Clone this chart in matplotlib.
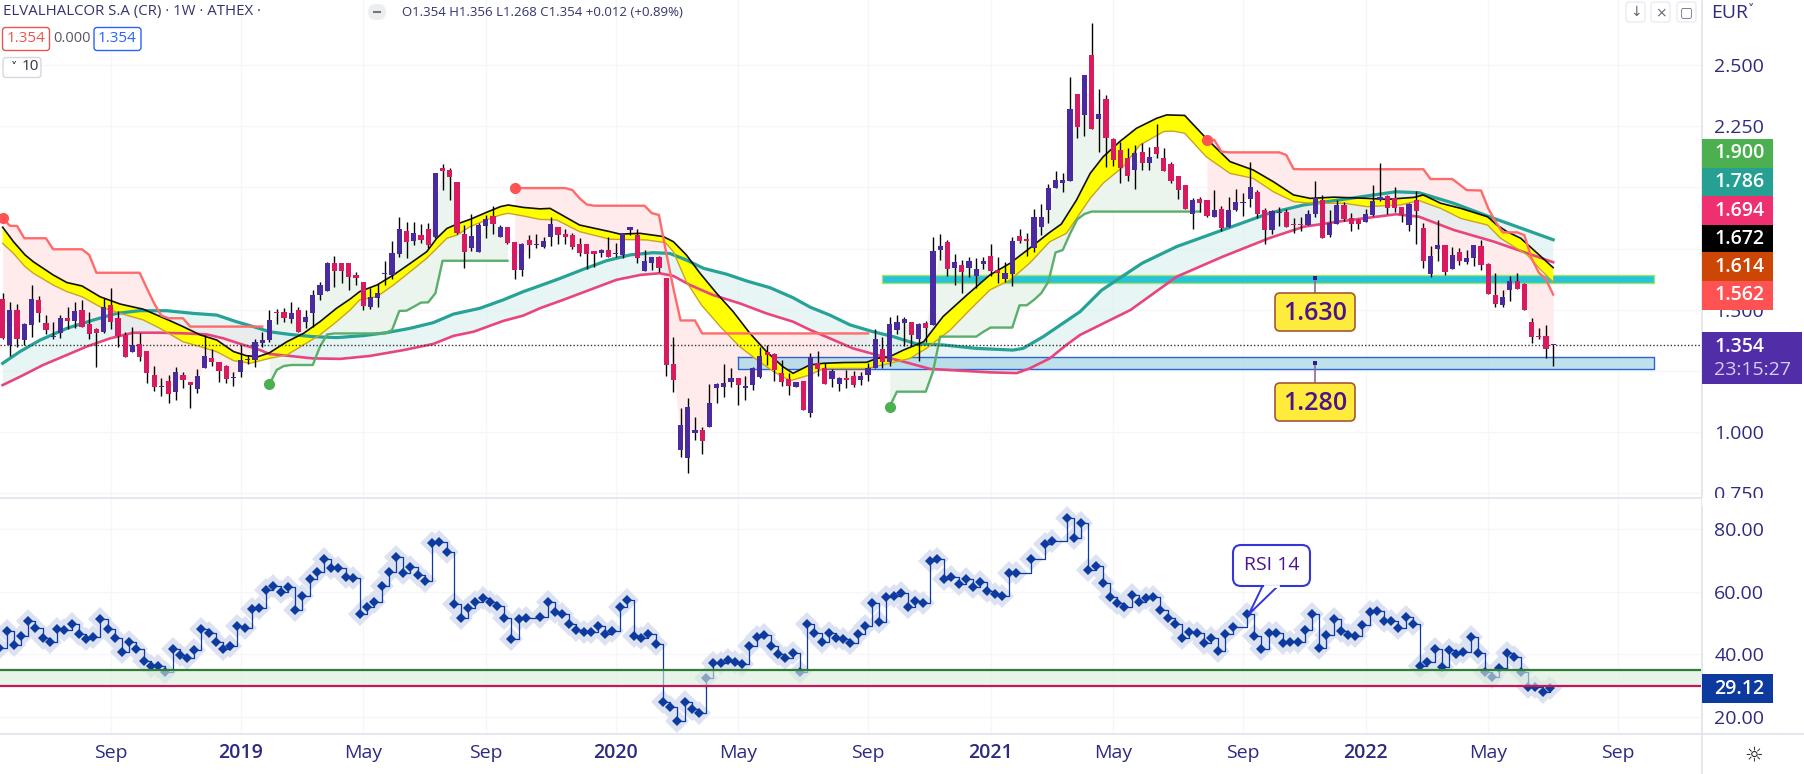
import numpy as np
import matplotlib
matplotlib.use('Agg')
import matplotlib.pyplot as plt
from matplotlib.patches import Rectangle, FancyBboxPatch, Polygon
from matplotlib.lines import Line2D
from matplotlib.transforms import IdentityTransform

plt.rcParams['font.family'] = ['Open Sans', 'DejaVu Sans']

W, H = 1804, 774

# Weekly candles
opens = [1.542,1.356,1.499,1.376,1.439,1.540,1.444,1.387,1.406,1.467,
         1.455,1.497,1.441,1.420,1.407,1.518,1.465,1.395,1.328,1.358,
         1.330,1.232,1.185,1.207,1.165,1.233,1.204,1.176,1.263,1.302,
         1.285,1.270,1.221,1.244,1.294,1.294,1.363,1.376,1.492,1.489,
         1.462,1.499,1.451,1.488,1.561,1.578,1.691,1.689,1.689,1.643,
         1.612,1.510,1.548,1.647,1.642,1.728,1.820,1.782,1.804,1.828,
         1.796,2.079,2.070,2.020,1.808,1.752,1.737,1.842,1.883,1.798,
         1.837,1.775,1.664,1.783,1.764,1.758,1.798,1.837,1.808,1.805,
         1.767,1.767,1.739,1.732,1.745,1.729,1.724,1.826,1.804,1.660,
         1.691,1.715,1.630,1.278,0.927,0.894,0.998,1.010,1.021,1.180,
         1.186,1.206,1.220,1.182,1.194,1.224,1.326,1.319,1.242,1.216,
         1.184,1.207,1.079,1.284,1.262,1.217,1.195,1.220,1.228,1.213,
         1.235,1.263,1.338,1.288,1.417,1.447,1.448,1.382,1.446,1.438,
         1.744,1.777,1.669,1.681,1.672,1.639,1.688,1.720,1.662,1.627,
         1.646,1.801,1.788,1.751,1.840,1.907,1.999,2.019,2.027,2.380,
         2.294,2.541,2.278,2.361,2.199,2.154,2.119,2.072,2.143,2.101,
         2.165,2.119,2.096,2.045,2.008,1.891,1.952,1.947,1.880,1.910,
         1.839,1.907,1.935,1.954,1.981,1.909,1.824,1.897,1.899,1.850,
         1.848,1.846,1.890,1.950,1.805,1.850,1.927,1.873,1.866,1.860,
         1.887,1.948,1.966,1.958,1.918,1.847,1.947,1.832,1.647,1.749,
         1.764,1.668,1.734,1.696,1.710,1.759,1.687,1.559,1.519,1.580,
         1.617,1.604,1.448,1.391,1.391,1.354]
closes = [1.383,1.499,1.379,1.441,1.544,1.488,1.417,1.390,1.466,1.455,
          1.493,1.431,1.399,1.406,1.510,1.448,1.393,1.308,1.354,1.308,
          1.240,1.185,1.188,1.157,1.244,1.211,1.192,1.228,1.311,1.286,
          1.251,1.218,1.224,1.296,1.297,1.366,1.375,1.458,1.485,1.465,
          1.485,1.410,1.470,1.560,1.601,1.692,1.659,1.659,1.635,1.629,
          1.516,1.550,1.567,1.650,1.732,1.830,1.778,1.812,1.785,1.766,
          2.059,2.067,2.041,1.812,1.734,1.800,1.845,1.869,1.849,1.837,
          1.771,1.664,1.768,1.764,1.767,1.779,1.850,1.807,1.797,1.758,
          1.732,1.729,1.729,1.745,1.717,1.732,1.812,1.837,1.710,1.698,
          1.714,1.672,1.276,1.213,1.029,1.103,1.009,0.965,1.118,1.197,
          1.199,1.220,1.194,1.188,1.262,1.310,1.316,1.254,1.206,1.187,
          1.203,1.092,1.308,1.256,1.198,1.248,1.221,1.214,1.194,1.229,
          1.263,1.382,1.288,1.442,1.450,1.463,1.398,1.442,1.427,1.741,
          1.762,1.666,1.694,1.655,1.698,1.665,1.699,1.658,1.649,1.649,
          1.779,1.782,1.782,1.877,1.878,1.996,2.029,2.029,2.319,2.248,
          2.458,2.240,2.300,2.200,2.113,2.078,2.048,2.139,2.101,2.124,
          2.138,2.068,2.027,1.991,1.913,1.948,1.937,1.882,1.906,1.833,
          1.907,1.940,1.940,2.002,1.893,1.824,1.903,1.901,1.839,1.846,
          1.845,1.891,1.955,1.794,1.853,1.928,1.872,1.850,1.849,1.891,
          1.946,1.959,1.917,1.917,1.886,1.931,1.905,1.698,1.718,1.763,
          1.655,1.722,1.699,1.710,1.763,1.683,1.564,1.523,1.552,1.617,
          1.586,1.499,1.390,1.387,1.341,1.354]
highs = [1.567,1.533,1.523,1.447,1.601,1.556,1.478,1.451,1.478,1.512,
         1.530,1.540,1.489,1.424,1.546,1.589,1.496,1.409,1.431,1.406,
         1.331,1.270,1.219,1.233,1.267,1.247,1.206,1.258,1.396,1.338,
         1.287,1.274,1.247,1.356,1.315,1.379,1.410,1.499,1.501,1.505,
         1.531,1.510,1.499,1.580,1.613,1.696,1.719,1.692,1.692,1.654,
         1.613,1.587,1.604,1.700,1.782,1.877,1.860,1.858,1.849,1.856,
         2.060,2.095,2.078,2.020,1.846,1.890,1.853,1.887,1.924,1.846,
         1.837,1.778,1.771,1.807,1.809,1.798,1.878,1.839,1.830,1.815,
         1.792,1.767,1.740,1.747,1.798,1.771,1.815,1.837,1.829,1.744,
         1.717,1.719,1.630,1.390,1.097,1.138,1.063,1.020,1.195,1.199,
         1.278,1.261,1.220,1.229,1.267,1.349,1.356,1.322,1.295,1.240,
         1.206,1.209,1.325,1.332,1.281,1.256,1.226,1.254,1.251,1.247,
         1.281,1.420,1.390,1.472,1.478,1.469,1.450,1.444,1.455,1.798,
         1.809,1.785,1.726,1.703,1.717,1.710,1.717,1.769,1.717,1.696,
         1.798,1.828,1.815,1.910,1.932,2.014,2.067,2.060,2.452,2.382,
         2.459,2.670,2.403,2.377,2.200,2.187,2.160,2.173,2.180,2.164,
         2.258,2.160,2.105,2.047,2.010,1.955,1.962,1.948,1.989,1.924,
         1.962,1.993,1.978,2.104,1.989,1.914,1.907,1.921,1.910,1.874,
         1.878,1.907,2.027,1.969,1.907,1.948,1.941,1.894,1.869,1.910,
         2.010,2.101,1.969,2.003,1.921,1.935,1.986,1.853,1.760,1.866,
         1.766,1.755,1.751,1.744,1.764,1.785,1.690,1.649,1.580,1.638,
         1.649,1.608,1.467,1.426,1.437,1.356]
lows = [1.380,1.311,1.349,1.356,1.390,1.451,1.400,1.382,1.383,1.421,
        1.424,1.429,1.382,1.267,1.406,1.422,1.349,1.306,1.326,1.292,
        1.199,1.169,1.149,1.120,1.131,1.178,1.100,1.161,1.262,1.270,
        1.206,1.199,1.188,1.226,1.278,1.267,1.349,1.369,1.441,1.451,
        1.447,1.409,1.424,1.431,1.540,1.576,1.591,1.608,1.580,1.601,
        1.499,1.503,1.512,1.601,1.624,1.717,1.713,1.764,1.771,1.751,
        1.792,1.989,1.948,1.811,1.672,1.740,1.736,1.794,1.809,1.796,
        1.770,1.624,1.638,1.713,1.751,1.751,1.762,1.767,1.769,1.747,
        1.721,1.665,1.673,1.717,1.715,1.717,1.710,1.805,1.692,1.658,
        1.662,1.656,1.229,1.165,0.899,0.832,0.968,0.911,1.020,1.118,
        1.145,1.183,1.111,1.131,1.172,1.221,1.274,1.209,1.190,1.152,
        1.183,1.090,1.060,1.229,1.197,1.186,1.169,1.179,1.183,1.191,
        1.209,1.260,1.260,1.271,1.401,1.353,1.353,1.289,1.369,1.436,
        1.703,1.638,1.601,1.570,1.632,1.587,1.666,1.638,1.608,1.615,
        1.597,1.771,1.719,1.734,1.805,1.853,1.997,1.982,2.026,2.203,
        2.211,2.239,2.146,2.082,2.087,2.017,2.026,1.993,2.071,2.071,
        2.121,2.067,2.017,1.951,1.912,1.830,1.901,1.880,1.879,1.823,
        1.838,1.905,1.884,1.921,1.874,1.767,1.809,1.842,1.838,1.815,
        1.823,1.845,1.880,1.793,1.798,1.849,1.864,1.823,1.830,1.858,
        1.884,1.946,1.891,1.901,1.860,1.822,1.768,1.670,1.634,1.700,
        1.642,1.665,1.683,1.687,1.678,1.662,1.563,1.512,1.510,1.537,
        1.584,1.497,1.362,1.380,1.304,1.268]

# Moving averages as (bar, price) readings
black_k = [0,1.5,3.1,4.25,7,8.9,11,13.5,16.3,19.5,23.2,25,27.4,29.7,32,33.8,35.4,37,39.4,41.7,44,46.3,48.2,49.5,
           51.9,54.2,56.5,58.8,60.2,61.6,63,64.8,67.1,69,70.1,72.2,74.5,75.9,77.3,80,84.2,85.6,88.4,91.6,93,94.8,
           96.7,99,101.3,103.6,105.9,108.2,109.6,111.9,113.8,116.6,119.8,121.2,123,124.9,127.7,130.4,133.7,136.9,
           139.7,142.4,145,146.8,148.9,150.8,152.6,154.9,157.2,160,161.4,163.9,166.9,170.2,173.4,176.2,179,181.3,
           184.6,189.2,192,195.7,197,199.4,202.2,205.9,207.2,208.6,210.5,212.3,215]
black_v = [1.837,1.778,1.724,1.696,1.642,1.611,1.597,1.553,1.523,1.502,1.455,1.431,1.397,1.376,1.329,1.312,1.308,1.324,
           1.369,1.403,1.451,1.506,1.544,1.574,1.601,1.642,1.689,1.737,1.792,1.832,1.850,1.869,1.898,1.921,1.928,1.918,
           1.912,1.914,1.891,1.846,1.819,1.809,1.812,1.799,1.778,1.724,1.649,1.567,1.492,1.404,1.329,1.267,1.240,1.274,
           1.281,1.284,1.285,1.301,1.308,1.335,1.369,1.472,1.560,1.642,1.690,1.751,1.812,1.850,1.948,2.057,2.125,2.187,
           2.241,2.282,2.296,2.294,2.200,2.105,2.071,2.023,1.969,1.955,1.960,1.955,1.951,1.959,1.969,1.935,1.914,1.880,
           1.846,1.819,1.792,1.744,1.672]
lower_k = [0,1.5,3.1,4.25,7,8.9,11,13.5,16.3,19.5,21.8,25,27.4,29.7,32,34.3,37,39.4,41.7,44,46.3,48.2,49.5,51.9,54.2,
           56.5,58.8,60.2,61.6,63,64.8,67.1,69,70.1,72.2,74.5,76.8,80,84.2,89.3,91.9,93,94.8,96.9,99.5,102.2,104.6,
           106.9,109.2,111.9,113.8,119.8,123,125.8,128.1,131.4,134.1,136.9,139.7,142.4,145.2,147.5,148.9,150.8,152.6,
           155.4,157.7,161,162.3,163.9,166.9,170.2,173.4,176.2,179,181.3,186,189.2,193.8,196.4,199.4,202.2,205.9,
           207.7,211.4,213.3,215]
lower_v = [1.771,1.730,1.676,1.649,1.601,1.574,1.553,1.512,1.485,1.458,1.424,1.369,1.349,1.328,1.292,1.281,1.301,1.315,
           1.356,1.397,1.451,1.499,1.540,1.553,1.601,1.655,1.710,1.751,1.792,1.805,1.839,1.867,1.887,1.894,1.883,1.869,
           1.867,1.819,1.788,1.785,1.774,1.737,1.615,1.519,1.431,1.349,1.295,1.247,1.210,1.233,1.260,1.260,1.281,1.301,
           1.342,1.417,1.499,1.581,1.621,1.690,1.778,1.812,1.873,1.955,2.017,2.085,2.173,2.228,2.230,2.221,2.125,2.057,
           2.037,1.982,1.942,1.935,1.935,1.921,1.928,1.946,1.914,1.873,1.846,1.792,1.724,1.662,1.614]
teal_k = [0,2.4,5.2,8.9,12.6,15.8,19,22.7,26.4,29.7,32.4,35.2,37,39.8,43,46.3,50,53.2,56.5,59.7,62.5,66.2,69.4,72.2,74.5,
          77.3,80.5,83.7,87,90.2,92.5,94.8,97.2,100.4,103.2,106.4,109.6,112,114.7,117.5,120.7,123.5,126.7,130.4,135,
          140.1,141.5,144.3,147,149.4,152.4,158,162.8,169.2,175.6,180.4,185.2,193.2,196.4,201.2,206.8,215]
teal_v = [1.281,1.329,1.376,1.424,1.458,1.485,1.496,1.496,1.485,1.478,1.451,1.427,1.410,1.399,1.390,1.386,1.394,1.406,
          1.424,1.447,1.482,1.506,1.540,1.574,1.598,1.628,1.665,1.700,1.724,1.733,1.730,1.703,1.669,1.645,1.617,1.590,
          1.549,1.510,1.478,1.438,1.410,1.390,1.360,1.356,1.342,1.335,1.342,1.390,1.444,1.492,1.580,1.690,1.758,1.826,
          1.894,1.928,1.948,1.982,1.978,1.935,1.873,1.786]
pink_k = [0,2.4,5.6,8.9,11.6,14.9,18.1,21.8,25.5,28.3,30.6,33.4,35.7,37,39.8,43,46.8,50.9,55.6,59.7,62.5,65.3,69.4,72.2,
          74.5,77.7,81.4,85.1,88.4,91.1,93,95.3,98.5,102.2,105.9,109.6,112,114.7,117.9,121.2,124.9,128.6,132.7,136.9,
          140.6,142.4,145.2,147.5,149.4,156.4,162.8,169.2,175.6,180.4,185.2,193.2,196.4,201.2,206.8,215]
pink_v = [1.192,1.226,1.274,1.315,1.349,1.383,1.406,1.406,1.403,1.399,1.383,1.356,1.335,1.319,1.311,1.301,1.299,1.311,
          1.335,1.360,1.393,1.410,1.454,1.476,1.506,1.540,1.581,1.622,1.642,1.649,1.638,1.601,1.560,1.526,1.485,1.451,
          1.417,1.383,1.342,1.315,1.288,1.258,1.251,1.244,1.241,1.260,1.301,1.356,1.397,1.499,1.635,1.717,1.792,1.839,
          1.860,1.890,1.880,1.826,1.778,1.694]

# Trailing stop segments: first bar and one level per bar
red1_start = 0
red1 = [1.873,1.843,1.842,1.792,1.792,1.792,1.792] + [1.747]*5 + [1.724] + [1.651]*7 + [1.587,1.526,1.476,1.465,1.465,1.465] + [1.431]*11
green1_start = 37
green1 = [1.195,1.254,1.270,1.274,1.274,1.274,1.274,1.349,1.399] + [1.403]*8 + [1.417,1.495,1.496,1.512,1.529,1.530,1.567] + [1.700]*10
red2_start = 71
red2 = [1.997]*8 + [1.989,1.955,1.930] + [1.925]*8 + [1.895,1.887,1.735,1.588,1.456,1.456,1.456] + [1.403]*24
green2_start = 123
green2 = [1.104,1.165,1.165,1.165,1.165,1.165,1.247] + [1.390]*6 + [1.410,1.427,1.427,1.427,1.427,1.518,1.518,1.540,1.567,1.614,1.734,1.744,1.810,1.869,1.891] + [1.901]*16
red3_start = 167
red3 = [2.193,2.194,2.146] + [2.143]*8 + [2.132,2.075] + [2.074]*18 + [2.034]*4 + [2.012,1.989,1.988,1.987,1.914,1.860,1.816,1.816,1.816,1.805,1.710,1.652,1.624,1.562]

nan = float('nan')
rsi = [42.1,47.6,43.0,45.9,50.6,48.3,45.3,44.0,48.0,47.8,49.6,46.5,44.9,45.6,51.3,48.0,45.3,40.6,43.8,41.6,
       38.0,36.4,36.4,34.4,41.6,39.8,38.7,41.4,48.0,46.7,44.0,41.7,42.5,49.0,48.3,54.4,54.7,60.5,61.9,60.0,
       61.4,54.2,58.6,63.9,66.2,70.3,67.5,67.7,64.6,64.3,52.9,55.2,56.6,61.9,66.4,70.9,66.1,67.8,65.3,63.5,
       75.4,75.8,72.8,56.0,51.5,54.7,56.8,58.1,56.8,55.5,51.5,44.9,51.3,51.5,nan,52.0,56.6,53.4,52.8,49.6,
       47.8,47.2,47.2,49.0,46.4,47.5,55.2,57.4,45.9,45.1,46.5,43.2,24.7,23.1,18.8,24.7,22.6,21.2,32.4,37.1,
       37.1,38.2,37.5,36.9,42.7,45.6,46.2,42.8,40.1,38.9,40.5,34.3,49.6,46.7,43.8,46.7,45.3,44.9,43.7,46.5,
       49.0,56.3,50.2,58.4,58.6,59.5,55.0,57.1,56.3,69.8,70.4,64.0,64.8,62.3,64.0,61.4,63.2,60.2,59.3,58.6,
       65.9,66.1,nan,70.4,nan,75.1,76.3,nan,83.6,77.2,81.8,66.9,68.2,62.9,58.4,56.5,55.0,58.9,56.8,57.9,
       58.4,54.2,51.5,49.6,45.1,47.2,46.7,43.5,45.1,41.2,46.4,48.6,nan,52.8,45.9,41.7,46.9,46.9,43.5,44.0,
       44.0,47.8,52.9,42.1,46.2,51.3,47.6,46.2,46.0,49.4,53.6,53.9,50.7,50.7,48.3,52.0,49.6,36.4,37.7,41.7,
       36.1,41.4,40.1,40.6,45.6,40.5,34.5,32.7,35.5,40.5,39.3,34.3,29.7,29.7,27.9,29.12]
rsi_upper = 35
rsi_lower = 30

# Axis labels
month_bars = [15,33,50,67,85,102,120,137,154,172,189,206,224]
month_labels = ['Sep','2019','May','Sep','2020','May','Sep','2021','May','Sep','2022','May','Sep']
price_ticks = [0.75,1.0,1.25,1.5,1.75,2.0,2.25,2.5]
price_labels = ['0.750','1.000','','1.500','','','2.250','2.500']
rsi_ticks = [20,40,60,80]
last_price = 1.354
zone_high = [1.642,1.609]
zone_low = [1.305,1.259]

# Colours
UP = '#4a2a9f'
DOWN = '#d81b60'
TEXT = '#2e2a80'
RED = '#ff6b6b'
GREEN = '#5cae6c'
GRID = '#f6f6f9'
NAVY = '#0d3a9e'


def px_y(y):
    return H - y


def fig_rect(x0, y0, x1, y1, color, z=5):
    fig.add_artist(Rectangle((x0, px_y(y1)), x1 - x0, y1 - y0, facecolor=color, edgecolor='none',
                             transform=IdentityTransform(), zorder=z))


def fig_box(x0, y0, x1, y1, face, edge, lw=1.0, r=4, z=5):
    fig.add_artist(FancyBboxPatch((x0, px_y(y1)), x1 - x0, y1 - y0,
                                  boxstyle=f'round,pad=0,rounding_size={r}', facecolor=face, edgecolor=edge,
                                  linewidth=lw, transform=IdentityTransform(), zorder=z))


def fig_text(x, y, s, size=13, color=TEXT, ha='left', va='center', z=6, **kw):
    fig.text(x, px_y(y), s, fontsize=size, color=color, ha=ha, va=va, transform=IdentityTransform(), zorder=z, **kw)


def fig_line(x0, y0, x1, y1, color, lw=1.0, z=5):
    fig.add_artist(Line2D([x0, x1], [px_y(y0), px_y(y1)], color=color, linewidth=lw,
                          transform=IdentityTransform(), zorder=z))


fig = plt.figure(figsize=(W / 100, H / 100), dpi=100, facecolor='white')
ax = fig.add_axes([0, (H - 497) / H, 1701 / W, 497 / H])
ax2 = fig.add_axes([0, (H - 733) / H, 1701 / W, 236 / H])

bars = np.arange(len(opens))
o, c, hi, lo = map(np.array, (opens, closes, highs, lows))
mid = (o + c) / 2

for a in (ax, ax2):
    a.set_xlim(-0.37, 235.5)
    for s in a.spines.values():
        s.set_visible(False)
    a.yaxis.tick_right()
    a.set_axisbelow(True)
    a.grid(True, color=GRID, linewidth=1)
    a.set_xticks(month_bars)
    a.tick_params(length=0, labelcolor=TEXT, labelsize=14, pad=9.5)

ax.set_ylim(0.7346, 2.7656)
ax.set_yticks(price_ticks)
ax.set_yticklabels(price_labels)
ax.set_xticklabels([])

# Trailing stops and their shading down to the candle bodies
for start, levels, col, fill in ((red1_start, red1, RED, '#ffe8e8'), (green1_start, green1, GREEN, '#e9f3ec'),
                                 (red2_start, red2, RED, '#ffe8e8'), (green2_start, green2, GREEN, '#e9f3ec'),
                                 (red3_start, red3, RED, '#ffe8e8')):
    k = np.arange(start, start + len(levels))
    ax.fill_between(k, levels, mid[k], color=fill, alpha=0.85, linewidth=0, zorder=1)
    ax.plot(k, levels, color=col, linewidth=1.7, zorder=3.2, solid_joinstyle='round')
    ax.plot(k[:1], levels[:1], 'o', color='#ff5252' if col == RED else '#4caf50', markersize=7, zorder=3.3, clip_on=False)

# Moving average bands
ax.add_patch(Polygon(np.c_[teal_k + pink_k[::-1], teal_v + pink_v[::-1]], closed=True, facecolor='#d6eeee',
                     alpha=0.55, edgecolor='none', zorder=2))

# Price zones
ax.fill_between([122, 229], zone_high[1], zone_high[0], facecolor='#27c3d6', edgecolor='#a6e36a', linewidth=1.0, zorder=2.1)
ax.fill_between([102, 229], zone_low[1], zone_low[0], facecolor='#a9d8e6', alpha=0.75, zorder=2.1, linewidth=0)
ax.plot([102, 229, 229, 102, 102], [zone_low[0], zone_low[0], zone_low[1], zone_low[1], zone_low[0]],
        color='#2f62cc', linewidth=1, zorder=2.2)

ax.add_patch(Polygon(np.c_[black_k + lower_k[::-1], black_v + lower_v[::-1]], closed=True, facecolor='#ffff00',
                     edgecolor='none', zorder=2.4))
ax.plot(teal_k, teal_v, color='#26a297', linewidth=2.3, zorder=2.6)
ax.plot(pink_k, pink_v, color='#e8457e', linewidth=1.9, zorder=2.6)
ax.plot(lower_k, lower_v, color='#c9a227', linewidth=1.0, zorder=2.7)
ax.plot(black_k, black_v, color='#111111', linewidth=1.2, zorder=2.8)

# Candles
colors = [UP if c[i] >= o[i] else DOWN for i in bars]
ax.vlines(bars, lo, hi, color='black', linewidth=1.0, zorder=4)
ax.bar(bars, np.maximum(np.abs(c - o), 0.004), bottom=np.minimum(o, c), width=0.72, color=colors, zorder=4.2, linewidth=0)

ax.axhline(last_price, color='#333333', linewidth=1, linestyle=(0, (1, 1.5)), zorder=3.5)

# RSI pane
ax2.set_ylim(14.9, 90.2)
ax2.set_yticks(rsi_ticks)
ax2.set_yticklabels([f'{t:.2f}' for t in rsi_ticks])
ax2.set_xticklabels([])
rsi_arr = np.array(rsi)
filled = rsi_arr.copy()
for i in range(1, len(filled)):
    if np.isnan(filled[i]):
        filled[i] = filled[i - 1]
rsi_x = bars - 0.45
ax2.plot(rsi_x, rsi_arr, 'D', color='#dce2f2', markersize=12.5, markeredgewidth=0, zorder=2.1)
ax2.plot(rsi_x, filled, color=NAVY, linewidth=0.9, drawstyle='steps-post', zorder=3)
ax2.plot(rsi_x, rsi_arr, 'D', color=NAVY, markersize=5.5, markeredgewidth=0, zorder=3.1)
ax2.axhspan(rsi_lower, rsi_upper, facecolor='#d9eedb', alpha=0.6, linewidth=0, zorder=3.5)
ax2.axhline(rsi_upper, color='#2e7d32', linewidth=1.6, zorder=3.6)
ax2.axhline(rsi_lower, color='#c2185b', linewidth=1.6, zorder=3.6)

# Time axis labels
for b, lab in zip(month_bars, month_labels):
    x = 2.67 + 7.212 * b
    is_year = lab.isdigit()
    fig_text(x, 753, lab, size=14, ha='center', fontweight='semibold' if is_year else 'normal')

# Pane borders
fig_line(0, 497.5, 1701, 497.5, '#e0e3eb', 1.2, z=2)
fig_line(0, 733.5, W, 733.5, '#e0e3eb', 1.2, z=2)
fig_line(1701.5, 0, 1701.5, H, '#e0e3eb', 1.2, z=2)
fig_rect(1702, 498, W, 506, 'white', z=2)

# Last value tags
tag_vals = ['1.900', '1.786', '1.694', '1.672', '1.614', '1.562']
tag_cols = ['#4caf50', '#26a093', '#ee2f70', '#000000', '#cc4606', '#ff5252']
tag_tops = [139, 168, 196, 225, 252, 281]
tag_bots = [168, 196, 225, 252, 281, 310]
for val, col, t0, t1 in zip(tag_vals, tag_cols, tag_tops, tag_bots):
    fig_rect(1702, t0, 1773, t1, col)
    fig_text(1714, (t0 + t1) / 2, val, size=14, color='white', fontweight='semibold')
fig_rect(1702, 332, 1802, 384, '#512da8')
fig_text(1714, 347, '1.354', size=14, color='white', fontweight='semibold')
fig_text(1714, 370, '23:15:27', size=14, color='#d8cff0')
fig_rect(1702, 674, 1773, 703, NAVY)
fig_text(1714, 689, '29.12', size=14, color='white', fontweight='semibold')
fig_text(1711, 13, 'EUR', size=14)
fig_text(1748, 10, '˅', size=9, color=TEXT)
fig_text(1754, 756, '☼', size=15, color='#222222', ha='center')

# Header
fig_text(3, 12, 'ELVALHALCOR S.A (CR) · 1W · ATHEX ·', size=10.8, color='#33336e')
fig_text(402, 13, 'O1.354 H1.356 L1.268 C1.354 +0.012 (+0.89%)', size=9.5, color='#33336e')
fig_box(368, 4, 386, 20, '#eceef2', 'none', r=8)
fig_line(374, 12, 380, 12, '#777777', 1.5, z=6)
fig_box(2.5, 27.5, 49.5, 50.5, 'white', '#ef5350', r=3)
fig_text(26, 39, '1.354', size=11, color='#ef5350', ha='center')
fig_text(72, 39, '0.000', size=10.5, color='#555566', ha='center')
fig_box(94, 27.5, 141, 50.5, 'white', '#2962ff', r=3)
fig_text(117.5, 39, '1.354', size=11, color='#2962ff', ha='center')
fig_box(3, 57.5, 41, 77.5, 'white', '#d6d8de', r=3)
fig_text(14, 67, '˅', size=9, color='#222222', ha='center')
fig_text(30, 67, '10', size=11, color='#333344', ha='center')

# Pane buttons
for x0, sym in zip((1626, 1651, 1677), ('↓', '⨯', '▢')):
    fig_box(x0, 2, x0 + 19, 22, 'white', '#e9ebf0', r=3)
    fig_text(x0 + 9.5, 12, sym, size=10, color='#666677', ha='center', family=['DejaVu Sans'])

# Zone callouts
for y_dot, y0, y1, label in ((278, 293, 331, '1.630'), (363, 383, 421, '1.280')):
    fig_line(1315, y_dot, 1315, y0, '#8a6a9a', 1.2)
    fig.add_artist(Rectangle((1313, px_y(y_dot + 2)), 4, 4, facecolor='#311b92', transform=IdentityTransform(), zorder=6))
    fig_box(1275, y0, 1355, y1, '#ffeb3b', '#a5563a', lw=1.2, r=5)
    fig_text(1315, (y0 + y1) / 2 + 1, label, size=18, color='#4a148c', ha='center', fontweight='semibold')

# RSI callout
fig.add_artist(Polygon([[1263, px_y(585)], [1279, px_y(585)], [1249, px_y(614)]], closed=True, facecolor='white',
                       edgecolor='#3535d8', linewidth=1.4, transform=IdentityTransform(), zorder=5))
fig_box(1233, 545, 1310, 586, 'white', '#3535d8', lw=1.5, r=8, z=5.1)
fig_line(1264.5, 586, 1277.5, 586, 'white', 2, z=5.2)
fig_text(1271.5, 565, 'RSI 14', size=14, color='#4a148c', ha='center')

fig.savefig('out.png', dpi=100)
